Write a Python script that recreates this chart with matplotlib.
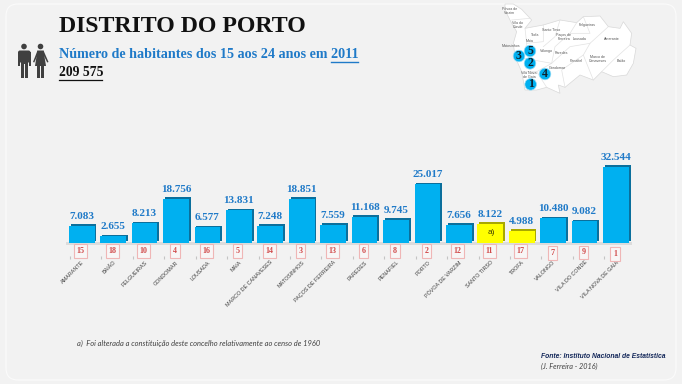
import matplotlib
matplotlib.use('Agg')
import matplotlib.pyplot as plt
from matplotlib.patches import Circle, Polygon, Rectangle, FancyBboxPatch
from matplotlib.transforms import ScaledTranslation

# Data
concelhos = ['Amarante', 'Baião', 'Felgueiras', 'Gondomar', 'Lousada', 'Maia',
             'Marco de Canaveses', 'Matosinhos', 'Paços de Ferreira', 'Paredes',
             'Penafiel', 'Porto', 'Póvoa de Varzim', 'Santo Tirso', 'Trofa',
             'Valongo', 'Vila do Conde', 'Vila Nova de Gaia']
habitantes = [7083, 2655, 8213, 18756, 6577, 13831, 7248, 18851, 7559, 11168,
              9745, 25017, 7656, 8122, 4988, 10480, 9082, 32544]
ranking = [15, 18, 10, 4, 16, 5, 14, 3, 13, 6, 8, 2, 12, 11, 17, 7, 9, 1]
destaque = ['Santo Tirso', 'Trofa']

# Map labels and top five markers
mapa_nomes = ['Póvoa de\nVarzim', 'Vila do\nConde', 'Trofa', 'Santo Tirso', 'Paços de\nFerreira',
              'Felgueiras', 'Lousada', 'Amarante', 'Maia', 'Valongo', 'Paredes', 'Penafiel',
              'Marco de\nCanaveses', 'Baião', 'Matosinhos', 'Gondomar', 'Vila Nova\nde Gaia']
top5 = ['1', '2', '3', '4', '5']

# Layout in pixels
W, H = 682, 384
X0, STEP = 81.7, 31.43
BASE_Y, PX_PER_UNIT = 242.5, 0.00232
AX_TOP = 130
BLUE, BLUE_DK = '#00b0f0', '#0b6f9c'
YEL, YEL_DK = '#ffff00', '#a8a800'
TXT_BLUE = '#1f7ac8'
SERIF = 'Liberation Serif'

fig = plt.figure(figsize=(W / 100, H / 100), dpi=100, facecolor='#f2f2f2')

# Overlay in pixel coordinates for the decoration
ov = fig.add_axes([0, 0, 1, 1], zorder=1)
ov.set_xlim(0, W)
ov.set_ylim(H, 0)
ov.axis('off')

# Bars
left = X0 - STEP / 2
ax = fig.add_axes([left / W, 1 - BASE_Y / H, STEP * 18 / W, (BASE_Y - AX_TOP) / H], zorder=2)
ax.patch.set_alpha(0)
ax.set_xlim(-0.5, 17.5)
ax.set_ylim(0, (BASE_Y - AX_TOP) / PX_PER_UNIT)
for s in ax.spines.values():
    s.set_visible(False)
ax.set_yticks([])

x = list(range(len(concelhos)))
front = [YEL if c in destaque else BLUE for c in concelhos]
side = [YEL_DK if c in destaque else BLUE_DK for c in concelhos]
# darker copy of the bars, pushed up and right, gives the 3D edge
ax.bar(x, habitantes, width=0.82, color=side, zorder=2,
       transform=ax.transData + ScaledTranslation(1.8 / 100, 1.6 / 100, fig.dpi_scale_trans))
ax.bar(x, habitantes, width=0.82, color=front, zorder=3)

for i, v in enumerate(habitantes):
    ax.annotate(f'{v:,}'.replace(',', '.'), (i, v), xytext=(0, 5), textcoords='offset pixels',
                ha='center', va='bottom', family=SERIF, weight='bold', fontsize=8, color=TXT_BLUE,
                annotation_clip=False, zorder=5)
    dy = {7: 2, 9: 1.5, 1: 3}.get(ranking[i], 0)
    ax.annotate(str(ranking[i]), (i, 0), xytext=(-1, -8.5 - dy), textcoords='offset pixels',
                ha='center', va='center', family=SERIF, weight='bold', fontsize=5.8, color='#d04a4a',
                annotation_clip=False, zorder=5,
                bbox=dict(boxstyle='square,pad=0.32', fc='#f8f6f6', ec='#efb6b6', lw=0.8))

ax.set_xticks(x)
ax.set_xticklabels([c.upper() for c in concelhos], rotation=45, ha='right', va='top',
                   rotation_mode='anchor', fontsize=3.9, color='#404040', family='Liberation Sans')
ax.tick_params(axis='x', length=0, pad=12.5)

i_st = concelhos.index('Santo Tirso')
ax.annotate('a)', (i_st, 0), xytext=(1, 10), textcoords='offset pixels', ha='center', va='center',
            family='Liberation Sans', fontsize=6, color='#404000', zorder=6)

# Floor shadow and small ticks
ov.add_patch(Rectangle((left, 242), STEP * 18, 2.5, fc='#dcdcdc', ec='none'))
ov.vlines([X0 + i * STEP - 11.7 for i in x], 256, 259, color='#c4c4c4', lw=0.8)

# Rounded slide corners
ov.add_patch(FancyBboxPatch((6, 4), 670, 376, boxstyle='round,pad=0,rounding_size=12',
                            fc='none', ec='#fbfbfb', lw=0.8))

# Headings
ov.text(59, 27, 'DISTRITO DO PORTO', family=SERIF, weight='bold', fontsize=17.2, color='#111111',
        va='center', ha='left')
ov.text(59, 54.5, 'Número de habitantes dos 15 aos 24 anos em 2011', family=SERIF, weight='bold',
        fontsize=10.2, color=TXT_BLUE, va='center', ha='left')
ov.plot([331, 358], [61.5, 61.5], color=TXT_BLUE, lw=1)
ov.text(59, 73, '209 575', family=SERIF, weight='bold', fontsize=9.8, color='#111111',
        va='center', ha='left')
ov.plot([59, 102], [79.5, 79.5], color='#111111', lw=0.9)

# Man and woman icon
ICON = '#404040'
ov.add_patch(Circle((24, 46.5), 2.8, fc=ICON, ec='none'))
ov.add_patch(FancyBboxPatch((18, 50.5), 12.5, 12, boxstyle='round,pad=0,rounding_size=2', fc=ICON, ec='none'))
ov.add_patch(Rectangle((20.5, 60), 7.5, 4, fc=ICON, ec='none'))
ov.add_patch(Rectangle((20.5, 63), 3.3, 15, fc=ICON, ec='none'))
ov.add_patch(Rectangle((24.7, 63), 3.3, 15, fc=ICON, ec='none'))
ov.add_patch(Rectangle((18, 52), 1.7, 14, fc=ICON, ec='none'))
ov.add_patch(Rectangle((28.8, 52), 1.7, 14, fc=ICON, ec='none'))
ov.add_patch(Circle((40.5, 46.5), 2.8, fc=ICON, ec='none'))
ov.add_patch(Polygon([(37.5, 50.5), (43.5, 50.5), (46, 66), (35, 66)], fc=ICON, ec='none'))
ov.add_patch(Polygon([(37.5, 50.5), (33, 62), (34.3, 62.5), (39, 52)], fc=ICON, ec='none'))
ov.add_patch(Polygon([(43.5, 50.5), (48.5, 62), (47.2, 62.5), (42, 52)], fc=ICON, ec='none'))
ov.add_patch(Rectangle((37.3, 65), 2.2, 13, fc=ICON, ec='none'))
ov.add_patch(Rectangle((41.3, 65), 2.2, 13, fc=ICON, ec='none'))

def mx(px):
    return 480 + px / 3

outline = [(75, 12), (100, 12), (125, 28), (155, 60), (135, 85), (190, 75), (240, 60), (290, 68),
           (310, 50), (360, 48), (385, 80), (420, 85), (430, 65), (455, 100), (450, 135), (468, 145),
           (460, 190), (440, 225), (400, 230), (365, 215), (340, 240), (300, 225), (255, 262),
           (235, 255), (240, 280), (200, 262), (170, 270), (135, 270), (125, 215), (105, 170),
           (100, 130), (110, 95), (95, 70), (75, 30)]
ov.add_patch(Polygon([(mx(a), b / 3) for a, b in outline], fc='white', ec='#d8d8d8', lw=0.5))
borders = [[(95, 60), (150, 55)], [(135, 85), (140, 130), (190, 125), (190, 75)],
           [(240, 60), (225, 110), (190, 140)], [(290, 68), (270, 100), (225, 140), (215, 190)],
           [(310, 50), (330, 100), (270, 100)], [(385, 80), (330, 130), (270, 140), (215, 190)],
           [(330, 130), (310, 165), (245, 210), (255, 262)], [(450, 135), (400, 180), (365, 215)],
           [(310, 165), (340, 240)], [(105, 170), (215, 190), (170, 215), (135, 215)],
           [(140, 130), (130, 180)], [(170, 215), (200, 262)]]
for b in borders:
    ov.plot([mx(p[0]) for p in b], [p[1] / 3 for p in b], color='#e2e2e2', lw=0.5)

nome_xy = [(88, 34), (113, 74), (166, 104), (212, 90), (252, 110), (322, 75), (300, 117), (396, 118),
           (148, 124), (198, 154), (245, 159), (289, 184), (354, 176), (424, 184), (92, 138),
           (232, 205), (147, 226)]
for n, (a, b) in zip(mapa_nomes, nome_xy):
    ov.text(mx(a), b / 3, n, fontsize=2.6, color='#555555', ha='center', va='center', linespacing=1.0,
            family='Liberation Sans')

top5_xy = [(152, 253), (150, 190), (117, 168), (195, 222), (150, 153)]
for n, (a, b) in zip(top5, top5_xy):
    ov.add_patch(Circle((mx(a), b / 3), 5.8, fc=BLUE, ec='#9adcf5', lw=0.5, zorder=4))
    ov.text(mx(a), b / 3, n, family=SERIF, weight='bold', fontsize=8.5, color='#10202a',
            ha='center', va='center', zorder=5)

# Footnotes
ov.text(77.3, 343, 'a)  Foi alterada a constituição deste concelho relativamente ao censo de 1960',
        family='Lato', style='italic', fontsize=5.4, color='#404040', va='center', ha='left')
ov.text(541, 356.5, 'Fonte: Instituto Nacional de Estatística', family='Liberation Sans', style='italic',
        weight='bold', fontsize=4.85, color='#14285a', va='center', ha='left')
ov.text(541, 366.5, '(J. Ferreira - 2016)', family='Lato', style='italic', fontsize=5.2, color='#404040',
        va='center', ha='left')

fig.savefig('out.png', dpi=100, facecolor=fig.get_facecolor())
